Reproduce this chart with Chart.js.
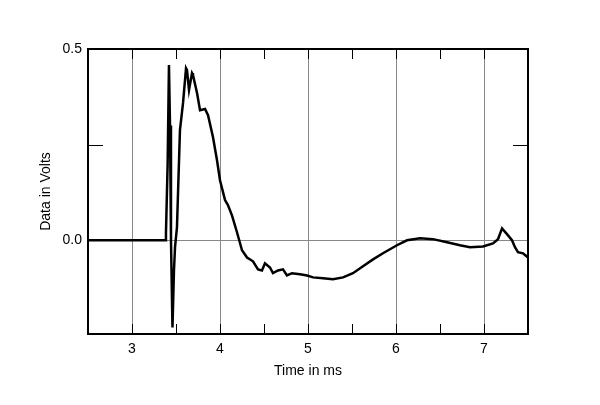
<!DOCTYPE html>
<html>
<head>
<meta charset="utf-8">
<script src="https://cdn.jsdelivr.net/npm/chart.js@4/dist/chart.umd.min.js"></script>
<style>
  html, body { margin: 0; padding: 0; background: #fff; }
  #wrap { width: 600px; height: 405px; }
</style>
</head>
<body>
<div id="wrap"><canvas id="chart" width="600" height="405"></canvas></div>
<script>
// impulse response
const timeMs = [2.5, 3.375, 3.386, 3.405, 3.42, 3.432, 3.443, 3.46, 3.477, 3.489, 3.511, 3.545, 3.58, 3.614, 3.625,
  3.648, 3.682, 3.693, 3.739, 3.773, 3.83, 3.864, 3.92, 3.966, 4.0, 4.057, 4.09, 4.136, 4.193, 4.25, 4.307, 4.375,
  4.432, 4.477, 4.511, 4.568, 4.602, 4.659, 4.716, 4.761, 4.818, 4.909, 4.989, 5.057, 5.17, 5.284, 5.398, 5.511,
  5.625, 5.739, 5.852, 6.011, 6.125, 6.273, 6.42, 6.58, 6.727, 6.841, 6.989, 7.102, 7.159, 7.205, 7.261, 7.318,
  7.352, 7.386, 7.443, 7.5];
const volts = [0, 0, 0.02, 0.2, 0.458, 0.3, 0, -0.228, -0.079, -0.018, 0.034, 0.288, 0.359, 0.450, 0.445,
  0.393, 0.437, 0.432, 0.385, 0.340, 0.343, 0.327, 0.270, 0.209, 0.157, 0.105, 0.092, 0.065, 0.021, -0.026, -0.045, -0.055,
  -0.076, -0.079, -0.060, -0.071, -0.086, -0.079, -0.076, -0.092, -0.086, -0.089, -0.092, -0.097, -0.099, -0.102, -0.097, -0.086,
  -0.068, -0.050, -0.034, -0.013, 0, 0.005, 0.003, -0.005, -0.013, -0.018, -0.016, -0.008, 0.003, 0.031, 0.016, 0,
  -0.018, -0.031, -0.034, -0.045];

const xTicks = [3, 4, 5, 6, 7];
const xMinorTicks = [3.5, 4.5, 5.5, 6.5];
const yTicks = [0, 0.5];
const yMinorTicks = [0.25];

const points = timeMs.map((t, i) => ({ x: t, y: volts[i] }));
const font = { family: '"Liberation Sans", Arial, sans-serif', size: 14 };

// frame + short inward tick marks
const framePlugin = {
  id: 'frame',
  afterDraw(chart) {
    const { ctx, chartArea: a, scales } = chart;
    ctx.save();
    ctx.strokeStyle = '#000';
    ctx.lineWidth = 1;
    xTicks.concat(xMinorTicks).forEach(v => {
      const px = Math.round(scales.x.getPixelForValue(v)) + 0.5;
      ctx.beginPath();
      ctx.moveTo(px, a.bottom); ctx.lineTo(px, a.bottom - 10);
      ctx.moveTo(px, a.top); ctx.lineTo(px, a.top + 10);
      ctx.stroke();
    });
    yMinorTicks.forEach(v => {
      const py = Math.round(scales.y.getPixelForValue(v)) + 0.5;
      ctx.beginPath();
      ctx.moveTo(a.left, py); ctx.lineTo(a.left + 15, py);
      ctx.moveTo(a.right, py); ctx.lineTo(a.right - 15, py);
      ctx.stroke();
    });
    ctx.lineWidth = 2;
    ctx.strokeRect(a.left, a.top, a.right - a.left, a.bottom - a.top);
    ctx.restore();
  }
};

new Chart(document.getElementById('chart'), {
  type: 'line',
  data: {
    datasets: [{
      data: points,
      borderColor: '#000',
      borderWidth: 2.5,
      pointRadius: 0,
      tension: 0,
      fill: false
    }]
  },
  options: {
    responsive: false,
    animation: false,
    events: [],
    layout: { padding: { top: 49, right: 72, left: 0, bottom: 0 } },
    plugins: { legend: { display: false }, tooltip: { enabled: false } },
    scales: {
      x: {
        type: 'linear',
        min: 2.5,
        max: 7.5,
        afterBuildTicks: s => { s.ticks = xTicks.map(v => ({ value: v })); },
        afterFit: s => { s.height = 71; },
        grid: { color: '#888', lineWidth: 1, drawTicks: false },
        border: { display: false },
        ticks: { color: '#000', font: font, padding: 7, callback: v => String(v) },
        title: { display: true, text: 'Time in ms', color: '#000', font: font, padding: { top: 0, bottom: 25 } }
      },
      y: {
        type: 'linear',
        min: -0.245,
        max: 0.5,
        afterBuildTicks: s => { s.ticks = yTicks.map(v => ({ value: v })); },
        afterFit: s => { s.width = 88; },
        grid: { color: ctx => ctx.tick && ctx.tick.value === 0 ? '#888' : 'rgba(0,0,0,0)', lineWidth: 1, drawTicks: false },
        border: { display: false },
        ticks: { color: '#000', font: font, padding: 6, callback: v => v.toFixed(1) },
        title: { display: true, text: 'Data in Volts', color: '#000', font: font, padding: { top: 38, bottom: 0 } }
      }
    }
  },
  plugins: [framePlugin]
});
</script>
</body>
</html>
